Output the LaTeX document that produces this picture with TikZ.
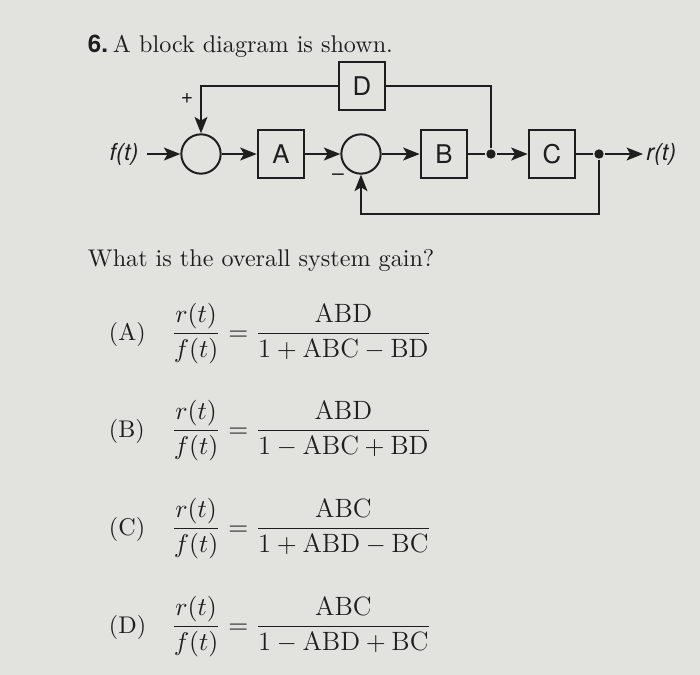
\documentclass[tikz,border=0pt]{standalone}
\usepackage{fontspec}
\newfontfamily\heros{TeX Gyre Heros}
\usetikzlibrary{arrows.meta}
\definecolor{paper}{RGB}{226,226,223}
\definecolor{ink}{RGB}{30,30,30}

\begin{document}
\begin{tikzpicture}[x=0.015cm,y=-0.015cm,line width=0.85pt,ink,
   font=\fontsize{10.3}{12.4}\selectfont,
   blk/.style={draw,minimum width=0.7cm,minimum height=0.72cm,font=\heros\fontsize{11}{13}\selectfont},
   sumc/.style={draw,circle,minimum size=0.59cm,inner sep=0pt},
   dot/.style={circle,fill,inner sep=0pt,minimum size=4pt},
   sgn/.style={font=\heros\fontsize{9}{10}\selectfont},
   sig/.style={font=\heros\itshape\fontsize{10}{12}\selectfont},
   eqn/.style={anchor=base west,inner sep=0pt,font=\fontsize{11.3}{13.6}\selectfont},
   arr/.style={-{Stealth[length=7pt,width=5.5pt,inset=1.6pt]}}]
   \fill[paper] (0,0) rectangle (700,675);
   \useasboundingbox (0,0) rectangle (700,675);

   \node[anchor=base west,inner sep=0pt,font=\heros\bfseries\fontsize{10.3}{12.4}\selectfont] (num) at (87,52) {6.};
   \node[anchor=base west,inner sep=0pt] (title) at (112,52) {A block diagram is shown.};

   \node[sig] (f) at (124,154) {f(t)};
   \node[sumc] (s1) at (201,154) {};
   \node[blk] (a) at (281,154) {A};
   \node[sumc] (s2) at (361,154) {};
   \node[blk] (b) at (444,154) {B};
   \node[dot] (j1) at (491,154) {};
   \node[blk] (c) at (552,154) {C};
   \node[dot] (j2) at (599,154) {};
   \node[sig,anchor=west,inner sep=1pt] (r) at (643,154) {r(t)};
   \node[blk] (d) at (362,86) {D};
   \node[sgn] (plus) at (187,98) {+};
   \node[sgn] (minus) at (338,177) {\textendash};
   \coordinate (fb) at (599,214);

   \draw[arr] (f) -- (s1);
   \draw[arr] (s1) -- (a);
   \draw[arr] (a) -- (s2);
   \draw[arr] (s2) -- (b);
   \draw (b) -- (j1);
   \draw[arr] (j1) -- (c);
   \draw (c) -- (j2);
   \draw[arr] (j2) -- (r);
   \draw (j1) |- (d);
   \draw[arr] (d) -| (s1);
   \draw[arr] (j2) -- (fb) -| (s2);

   \node[anchor=base west,inner sep=0pt] (quest) at (87,266) {What is the overall system gain?};

   \node[anchor=base west,inner sep=0pt] (la) at (108,340) {(A)};
   \node[eqn] (ea) at (170,340) {$\displaystyle\frac{r(t)}{f(t)}=\frac{\mathrm{ABD}}{\mathrm{1+ABC-BD}}$};
   \node[anchor=base west,inner sep=0pt] (lb) at (108,437) {(B)};
   \node[eqn] (eb) at (170,437) {$\displaystyle\frac{r(t)}{f(t)}=\frac{\mathrm{ABD}}{\mathrm{1-ABC+BD}}$};
   \node[anchor=base west,inner sep=0pt] (lc) at (108,535) {(C)};
   \node[eqn] (ec) at (170,535) {$\displaystyle\frac{r(t)}{f(t)}=\frac{\mathrm{ABC}}{\mathrm{1+ABD-BC}}$};
   \node[anchor=base west,inner sep=0pt] (ld) at (108,633) {(D)};
   \node[eqn] (ed) at (170,633) {$\displaystyle\frac{r(t)}{f(t)}=\frac{\mathrm{ABC}}{\mathrm{1-ABD+BC}}$};
\end{tikzpicture}
\end{document}
